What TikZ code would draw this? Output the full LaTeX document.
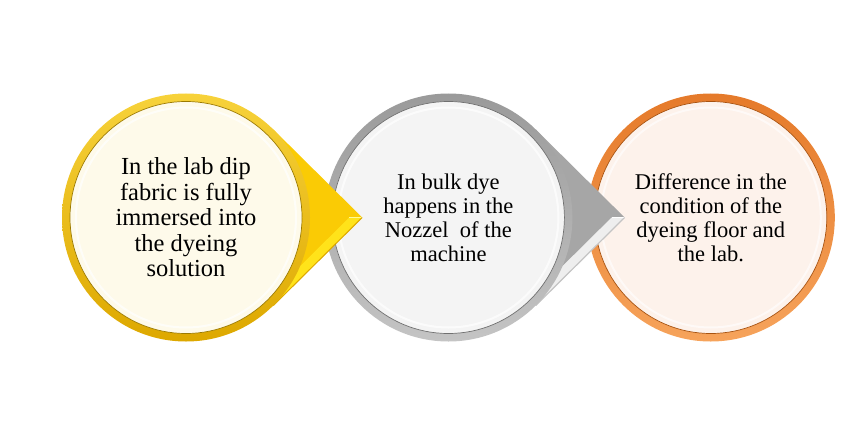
\documentclass[tikz,border=0pt]{standalone}
\usepackage{fontspec}
\setmainfont{Liberation Serif}
\usetikzlibrary{positioning,calc}

\definecolor{goldface}{HTML}{FACB05}
\definecolor{goldbevel}{HTML}{FFE31A}
\definecolor{goldtop}{HTML}{F7D23A}
\definecolor{goldbot}{HTML}{DDA800}
\definecolor{goldedge}{HTML}{9C7A00}
\definecolor{goldfill}{HTML}{FEFAEA}
\definecolor{greyface}{HTML}{A6A6A6}
\definecolor{greybevel}{HTML}{EEEEEE}
\definecolor{greytop}{HTML}{9A9A9A}
\definecolor{greybot}{HTML}{C4C4C4}
\definecolor{greyedge}{HTML}{707070}
\definecolor{greyfill}{HTML}{F4F4F4}
\definecolor{orangetop}{HTML}{E57A2A}
\definecolor{orangebot}{HTML}{F6A35B}
\definecolor{orangeedge}{HTML}{A8520F}
\definecolor{orangefill}{HTML}{FDF2EB}

\tikzset{
  bubble/.style={circle, minimum size=248pt, inner sep=0pt},
  bigtext/.style={align=center, font=\fontsize{24.5}{25.5}\selectfont},
  smalltext/.style={align=center, font=\fontsize{22.5}{24}\selectfont},
}

\begin{document}
\begin{tikzpicture}[x=1pt,y=1pt]
  \useasboundingbox (0,0) rectangle (842,440);

  % the three bubbles
  \node[bubble]                   (c1) at (186,222.5) {};
  \node[bubble, right=14pt of c1] (c2) {};
  \node[bubble, right=14pt of c2] (c3) {};

  % pointer tips and tangent points
  \coordinate[right=52pt of c1.east] (p1);
  \coordinate[right=52pt of c2.east] (p2);
  \pgfmathsetmacro\tang{acos(124/176)}
  \coordinate (u1) at ($(c1.center)+(\tang:124pt)$);
  \coordinate (l1) at ($(c1.center)+(-\tang:124pt)$);
  \coordinate (u2) at ($(c2.center)+(\tang:124pt)$);
  \coordinate (l2) at ($(c2.center)+(-\tang:124pt)$);

  % orange bubble
  \shade[top color=orangetop, bottom color=orangebot] (c3.center) circle (124pt);
  \fill[orangefill] (c3.center) circle (116pt);
  \draw[orangeedge, line width=0.7pt] (c3.center) circle (116pt);
  \draw[white, line width=2pt, opacity=.6] (c3.center) circle (110pt);

  % grey bubble with pointer
  \fill[greyface] (c2.center) -- (u2) -- (p2) -- (l2) -- cycle;
  \fill[greybevel] (p2) -- (l2) -- ($(l2)+(-13,0)$) -- ($(p2)+(-13,0)$) -- cycle;
  \draw[white, line width=1pt] ($(p2)+(-13,0)$) -- (p2);
  \draw[greybot, line width=1.2pt] (p2) -- (l2);
  \shade[top color=greytop, bottom color=greybot] (c2.center) circle (124pt);
  \fill[greyfill] (c2.center) circle (116pt);
  \draw[greyedge, line width=0.7pt] (c2.center) circle (116pt);
  \draw[white, line width=2pt, opacity=.7] (c2.center) circle (110pt);

  % yellow bubble with pointer
  \fill[goldface] (c1.center) -- (u1) -- (p1) -- (l1) -- cycle;
  \fill[goldbevel] (p1) -- (l1) -- ($(l1)+(-13,0)$) -- ($(p1)+(-13,0)$) -- cycle;
  \draw[yellow!40, line width=1pt] ($(p1)+(-13,0)$) -- (p1);
  \draw[goldbot, line width=1pt] (p1) -- (l1);
  \shade[top color=goldtop, bottom color=goldbot] (c1.center) circle (124pt);
  \fill[goldfill] (c1.center) circle (116pt);
  \draw[goldedge, line width=0.7pt] (c1.center) circle (116pt);
  \draw[white, line width=2pt, opacity=.7] (c1.center) circle (110pt);

  % texts
  \node[bigtext]   (t1) at (c1) {In the lab dip\\fabric is fully\\immersed into\\the dyeing\\solution};
  \node[smalltext] (t2) at (c2) {In bulk dye\\happens in the\\Nozzel\ \ of the\\machine};
  \node[smalltext] (t3) at (c3) {Difference in the\\condition of the\\dyeing floor and\\the lab.};
\end{tikzpicture}
\end{document}
